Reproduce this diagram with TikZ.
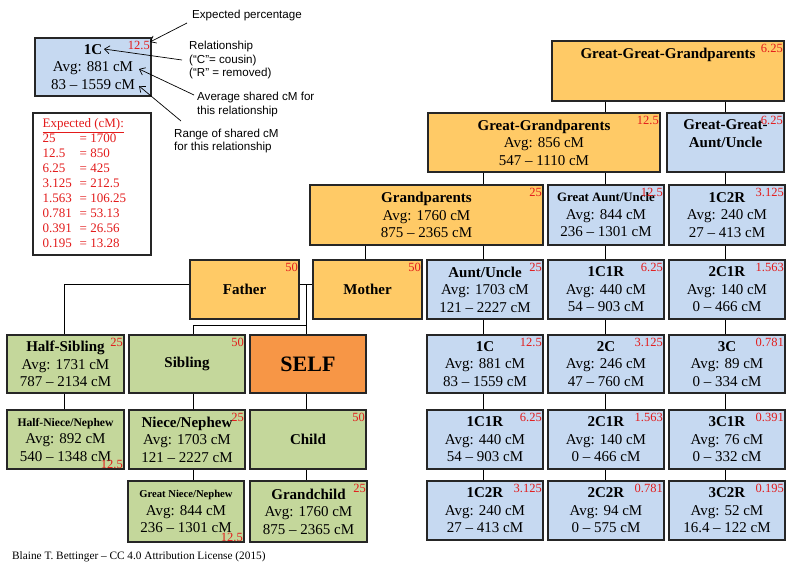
\documentclass[tikz,border=0pt]{standalone}
\usepackage{fontspec}
\setmainfont{Liberation Serif}
\newfontfamily\legsans{Liberation Sans}
\usetikzlibrary{arrows.meta,calc}
\definecolor{boxorange}{HTML}{FFCA66}
\definecolor{boxblue}{HTML}{C6D9F1}
\definecolor{boxgreen}{HTML}{C4D79B}
\definecolor{selfor}{HTML}{F79646}
\definecolor{pctred}{HTML}{E31B1B}
\newcommand\mybox[7]{\node[#6, minimum width={(#4-#2)*1pt}, minimum height={(#5-#3)*1pt}] (#1) at ({(#2+#4)/2},{(#3+#5)/2}) {#7};}
\newcommand\pcttr[2]{\node[pct,anchor=north east] (#1-p) at (#1.north east) {#2};}
\newcommand\pctbr[2]{\node[pct,inner ysep=0pt,anchor=base east,yshift=1.5pt] (#1-p) at (#1.south east) {#2};}
\begin{document}
\begin{tikzpicture}[x=1pt,y=-1pt,
  box/.style={draw=black!85, line width=1.1pt, inner sep=0pt, align=center, font=\fontsize{15}{17.5}\selectfont},
  ob/.style={box, fill=boxorange},
  bb/.style={box, fill=boxblue},
  gb/.style={box, fill=boxgreen},
  pct/.style={text=pctred, font=\fontsize{12.5}{14}\selectfont, inner xsep=1.5pt, inner ysep=4pt},
  conn/.style={draw=black, line width=0.8pt},
  legtxt/.style={font=\legsans\fontsize{11.6}{13.5}\selectfont, align=left, inner sep=0pt, anchor=west},
  legarrow/.style={-{Straight Barb[length=5pt,width=8pt]}, line width=0.7pt}
]
\useasboundingbox[fill=white] (0,0) rectangle (800,572);

% ---------- legend ----------
\mybox{leg1c}{35}{38}{151}{96}{bb}{\textbf{1C}\\Avg: 881 cM\\83 – 1559 cM}
\pcttr{leg1c}{12.5}

\node[legtxt] (lp) at (192,16) {Expected percentage};
\node[legtxt] (lr) at (189,60.5) {Relationship\\(“C”= cousin)\\(“R” = removed)};
\node[legtxt] (la) at (197,104.5) {Average shared cM for\\this relationship};
\node[legtxt] (lg) at (174,141) {Range of shared cM\\for this relationship};

\coordinate (a1s) at (187,23);  \coordinate (a1e) at (150,42);
\coordinate (a2s) at (182,60);  \coordinate (a2e) at (104,49);
\coordinate (a3s) at (194,95);  \coordinate (a3e) at (139,69);
\coordinate (a4s) at (181,121); \coordinate (a4e) at (139,86);
\draw[legarrow] (a1s) -- (a1e);
\draw[legarrow] (a2s) -- (a2e);
\draw[legarrow] (a3s) -- (a3e);
\draw[legarrow] (a4s) -- (a4e);

\mybox{exp}{33}{113}{151}{255}{box, fill=white}{}
\node[anchor=north west, inner sep=0pt, align=left, text=pctred, font=\fontsize{13}{15}\selectfont] (exptxt) at (42.5,118.5)
 {\underline{Expected (cM):}\\
  \makebox[37pt][l]{25}= 1700\\
  \makebox[37pt][l]{12.5}= 850\\
  \makebox[37pt][l]{6.25}= 425\\
  \makebox[37pt][l]{3.125}= 212.5\\
  \makebox[37pt][l]{1.563}= 106.25\\
  \makebox[37pt][l]{0.781}= 53.13\\
  \makebox[37pt][l]{0.391}= 26.56\\
  \makebox[37pt][l]{0.195}= 13.28};

% ---------- ancestors ----------
\mybox{ggg}{552}{41}{784}{101}{ob}{\textbf{Great-Great-Grandparents}\\~\\~}
\pcttr{ggg}{6.25}
\mybox{gg}{428}{113}{660}{172}{ob}{\textbf{Great-Grandparents}\\Avg: 856 cM\\547 – 1110 cM}
\pcttr{gg}{12.5}
\mybox{ggau}{667}{113}{784}{172}{bb}{\textbf{Great-Great-}\\\textbf{Aunt/Uncle}\\~}
\pcttr{ggau}{6.25}

\mybox{gp}{310}{185}{543}{245}{ob}{\textbf{Grandparents}\\Avg: 1760 cM\\875 – 2365 cM}
\pcttr{gp}{25}
\mybox{gau}{548}{185}{664}{245}{bb}{{\fontsize{12.8}{15}\selectfont\bfseries Great Aunt/Uncle}\\Avg: 844 cM\\236 – 1301 cM}
\pcttr{gau}{12.5}
\mybox{ao1c2r}{669}{185}{785}{245}{bb}{\textbf{1C2R}\\Avg: 240 cM\\27 – 413 cM}
\pcttr{ao1c2r}{3.125}

\mybox{father}{190}{260}{299}{319}{ob}{\textbf{Father}}
\pcttr{father}{50}
\mybox{mother}{313}{260}{422}{319}{ob}{\textbf{Mother}}
\pcttr{mother}{50}

\mybox{au}{427}{260}{543}{319}{bb}{\textbf{Aunt/Uncle}\\Avg: 1703 cM\\121 – 2227 cM}
\pcttr{au}{25}
\mybox{b1c1r}{548}{260}{664}{319}{bb}{\textbf{1C1R}\\Avg: 440 cM\\54 – 903 cM}
\pcttr{b1c1r}{6.25}
\mybox{b2c1r}{669}{260}{785}{319}{bb}{\textbf{2C1R}\\Avg: 140 cM\\0 – 466 cM}
\pcttr{b2c1r}{1.563}

% ---------- row C ----------
\mybox{halfsib}{7}{335}{124}{393}{gb}{\textbf{Half-Sibling}\\Avg: 1731 cM\\787 – 2134 cM}
\pcttr{halfsib}{25}
\mybox{sib}{129}{335}{245}{393}{gb}{\textbf{Sibling}}
\pcttr{sib}{50}
\mybox{self}{250}{335}{366}{393}{box, fill=selfor, font=\fontsize{22}{24}\selectfont}{\textbf{SELF}}
\mybox{c1c}{427}{335}{543}{393}{bb}{\textbf{1C}\\Avg: 881 cM\\83 – 1559 cM}
\pcttr{c1c}{12.5}
\mybox{c2c}{548}{335}{664}{393}{bb}{\textbf{2C}\\Avg: 246 cM\\47 – 760 cM}
\pcttr{c2c}{3.125}
\mybox{c3c}{669}{335}{785}{393}{bb}{\textbf{3C}\\Avg: 89 cM\\0 – 334 cM}
\pcttr{c3c}{0.781}

% ---------- row D ----------
\mybox{halfniece}{7}{410}{124}{469}{gb}{{\fontsize{11.6}{14}\selectfont\bfseries Half-Niece/Nephew}\\Avg: 892 cM\\540 – 1348 cM}
\pctbr{halfniece}{12.5}
\mybox{niece}{129}{410}{245}{469}{gb}{\textbf{Niece/Nephew}\\Avg: 1703 cM\\121 – 2227 cM}
\pcttr{niece}{25}
\mybox{child}{250}{410}{366}{469}{gb}{\textbf{Child}}
\pcttr{child}{50}
\mybox{d1c1r}{427}{410}{543}{469}{bb}{\textbf{1C1R}\\Avg: 440 cM\\54 – 903 cM}
\pcttr{d1c1r}{6.25}
\mybox{d2c1r}{548}{410}{664}{469}{bb}{\textbf{2C1R}\\Avg: 140 cM\\0 – 466 cM}
\pcttr{d2c1r}{1.563}
\mybox{d3c1r}{669}{410}{785}{469}{bb}{\textbf{3C1R}\\Avg: 76 cM\\0 – 332 cM}
\pcttr{d3c1r}{0.391}

% ---------- row E ----------
\mybox{greatniece}{128}{481}{244}{542}{gb}{{\fontsize{10.6}{13}\selectfont\bfseries Great Niece/Nephew}\\Avg: 844 cM\\236 – 1301 cM}
\pctbr{greatniece}{12.5}
\mybox{grandchild}{250}{481}{367}{542}{gb}{\textbf{Grandchild}\\Avg: 1760 cM\\875 – 2365 cM}
\pcttr{grandchild}{25}
\mybox{e1c2r}{427}{481}{543}{540}{bb}{\textbf{1C2R}\\Avg: 240 cM\\27 – 413 cM}
\pcttr{e1c2r}{3.125}
\mybox{e2c2r}{548}{481}{664}{540}{bb}{\textbf{2C2R}\\Avg: 94 cM\\0 – 575 cM}
\pcttr{e2c2r}{0.781}
\mybox{e3c2r}{669}{481}{785}{540}{bb}{\textbf{3C2R}\\Avg: 52 cM\\16.4 – 122 cM}
\pcttr{e3c2r}{0.195}

\node[anchor=west, inner sep=0pt, font=\fontsize{11.3}{13}\selectfont] (credit) at (12,557) {Blaine T. Bettinger – CC 4.0 Attribution License (2015)};

% ---------- connectors ----------
\coordinate (xc1) at (483.5,0);
\coordinate (xc2) at (605,0);
\coordinate (xc3) at (725.5,0);
\coordinate (xm) at (365,0);
\coordinate (xhs) at (64,0);
\coordinate (xs) at (193,0);
\coordinate (xself) at (306,0);

\draw[conn] (ggg.south -| xc2) -- (gg.north -| xc2);
\draw[conn] (ggg.south -| xc3) -- (ggau.north -| xc3);
\draw[conn] (gg.south -| xc1) -- (gp.north -| xc1);
\draw[conn] (gg.south -| xc2) -- (gau.north -| xc2);
\draw[conn] (ggau.south -| xc3) -- (ao1c2r.north -| xc3);

\draw[conn] (gp.south -| xc1) -- (au.north -| xc1);
\draw[conn] (au.south -| xc1) -- (c1c.north -| xc1);
\draw[conn] (c1c.south -| xc1) -- (d1c1r.north -| xc1);
\draw[conn] (d1c1r.south -| xc1) -- (e1c2r.north -| xc1);

\draw[conn] (gau.south -| xc2) -- (b1c1r.north -| xc2);
\draw[conn] (b1c1r.south -| xc2) -- (c2c.north -| xc2);
\draw[conn] (c2c.south -| xc2) -- (d2c1r.north -| xc2);
\draw[conn] (d2c1r.south -| xc2) -- (e2c2r.north -| xc2);

\draw[conn] (ao1c2r.south -| xc3) -- (b2c1r.north -| xc3);
\draw[conn] (b2c1r.south -| xc3) -- (c3c.north -| xc3);
\draw[conn] (c3c.south -| xc3) -- (d3c1r.north -| xc3);
\draw[conn] (d3c1r.south -| xc3) -- (e3c2r.north -| xc3);

\draw[conn] (gp.south -| xm) -- (mother.north -| xm);

\draw[conn] ([yshift=5pt]father.west) -| (halfsib.north -| xhs);
\draw[conn] ([yshift=5pt]father.east) -- ([yshift=5pt]mother.west);
\coordinate (fm) at ($(father.east)!0.5!(mother.west)+(0,-5)$);
\draw[conn] (fm) -- (fm |- self.north);
\coordinate (fmb) at ($(fm)+(0,41)$);
\draw[conn] (fmb) -| (sib.north -| xs);

\draw[conn] (halfsib.south -| xhs) -- (halfniece.north -| xhs);
\draw[conn] (sib.south -| xs) -- (niece.north -| xs);
\draw[conn] (niece.south -| xs) -- (greatniece.north -| xs);
\draw[conn] (self.south -| xself) -- (child.north -| xself);
\draw[conn] (child.south -| xself) -- (grandchild.north -| xself);
\end{tikzpicture}
\end{document}
